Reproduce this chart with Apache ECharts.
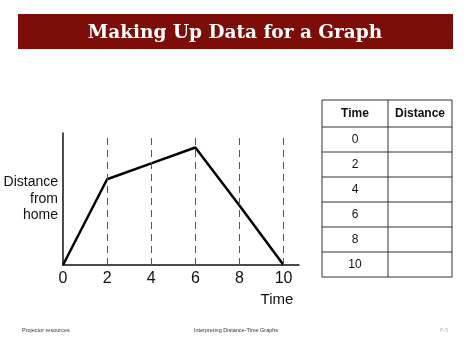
<!DOCTYPE html>
<html>
<head>
<meta charset="utf-8">
<script src="https://cdn.jsdelivr.net/npm/echarts@6/dist/echarts.min.js"></script>
<style>
  html, body { margin: 0; padding: 0; background: #fff; }
  #main { width: 474px; height: 346px; }
</style>
</head>
<body>
<div id="main"></div>
<script>
// values
var times = [0, 2, 4, 6, 8, 10];
var distance = [0, 6.5, 7.7, 8.9, 4.5, 0];
var gridTimes = [2, 4, 6, 8, 10];
var tableHeader = ['Time', 'Distance'];
var tableTimes = ['0', '2', '4', '6', '8', '10'];

var chart = echarts.init(document.getElementById('main'));

// table on the right, built from the arrays above
function buildTable() {
    var els = [];
    var left = 322, colSplit = 388, right = 452, top = 100;
    var headH = 27, rowH = 25;
    var bottom = top + headH + rowH * tableTimes.length;
    var line = { stroke: '#333', lineWidth: 1 };
    els.push({ type: 'rect', shape: { x: left, y: top, width: right - left, height: bottom - top }, style: { fill: 'none', stroke: '#333', lineWidth: 1 } });
    els.push({ type: 'line', shape: { x1: colSplit, y1: top, x2: colSplit, y2: bottom }, style: line });
    for (var i = 0; i < tableTimes.length; i++) {
        var y = top + headH + rowH * i;
        els.push({ type: 'line', shape: { x1: left, y1: y, x2: right, y2: y }, style: line });
        els.push({ type: 'text', x: (left + colSplit) / 2, y: y + rowH / 2,
            style: { text: tableTimes[i], fontSize: 12, fontFamily: 'Liberation Sans', fill: '#111', align: 'center', verticalAlign: 'middle' } });
    }
    els.push({ type: 'text', x: (left + colSplit) / 2, y: top + headH / 2,
        style: { text: tableHeader[0], fontSize: 12, fontWeight: 'bold', fontFamily: 'Liberation Sans', fill: '#111', align: 'center', verticalAlign: 'middle' } });
    els.push({ type: 'text', x: (colSplit + right) / 2, y: top + headH / 2,
        style: { text: tableHeader[1], fontSize: 12, fontWeight: 'bold', fontFamily: 'Liberation Sans', fill: '#111', align: 'center', verticalAlign: 'middle' } });
    return els;
}

var graphics = [
    // title banner
    { type: 'rect', shape: { x: 18, y: 14, width: 435, height: 35 }, style: { fill: '#7d0d08' } },
    { type: 'text', x: 235, y: 33, style: { text: 'Making Up Data for a Graph', fontSize: 18.5, fontWeight: 'bold', fontFamily: 'DejaVu Serif', fill: '#fff', align: 'center', verticalAlign: 'middle' } },
    // y axis name
    { type: 'text', x: 58, y: 199, style: { text: 'Distance\nfrom\nhome', fontSize: 14, lineHeight: 16.5, fontFamily: 'Liberation Sans', fill: '#111', align: 'right', verticalAlign: 'middle' } },
    // x axis name
    { type: 'text', x: 277, y: 300, style: { text: 'Time', fontSize: 15, fontFamily: 'Liberation Sans', fill: '#111', align: 'center', verticalAlign: 'middle' } },
    // footer
    { type: 'text', x: 22, y: 330, style: { text: 'Projector resources', fontSize: 5.5, fontFamily: 'Liberation Sans', fill: '#333', verticalAlign: 'middle' } },
    { type: 'text', x: 236, y: 330, style: { text: 'Interpreting Distance-Time Graphs', fontSize: 5.5, fontFamily: 'Liberation Sans', fill: '#333', align: 'center', verticalAlign: 'middle' } },
    { type: 'text', x: 444, y: 330, style: { text: 'P-5', fontSize: 5.5, fontFamily: 'Liberation Sans', fill: '#bbb', align: 'center', verticalAlign: 'middle' } }
].concat(buildTable());

var option = {
    animation: false,
    grid: { left: 63, top: 133, right: 175, bottom: 81 },
    xAxis: {
        type: 'value',
        min: 0,
        max: 10.7,
        interval: 2,
        axisLine: { lineStyle: { color: '#111', width: 1.5 } },
        axisTick: { show: false },
        splitLine: { show: false },
        axisLabel: {
            color: '#111', fontSize: 16, fontFamily: 'Liberation Sans', margin: 6,
            formatter: function (v) { return (v % 2 === 0 && v <= 10) ? String(v) : ''; }
        }
    },
    yAxis: {
        type: 'value',
        min: 0,
        max: 10,
        axisLine: { show: true, lineStyle: { color: '#111', width: 1.5 } },
        axisTick: { show: false },
        axisLabel: { show: false },
        splitLine: { show: false }
    },
    series: [{
        type: 'line',
        data: times.map(function (t, i) { return [t, distance[i]]; }),
        symbol: 'none',
        lineStyle: { color: '#000', width: 2.5 },
        markLine: {
            silent: true,
            symbol: 'none',
            label: { show: false },
            lineStyle: { color: '#555', width: 1, type: [7, 5] },
            data: gridTimes.map(function (t) { return { xAxis: t }; })
        }
    }],
    graphic: graphics
};

chart.setOption(option);
</script>
</body>
</html>
